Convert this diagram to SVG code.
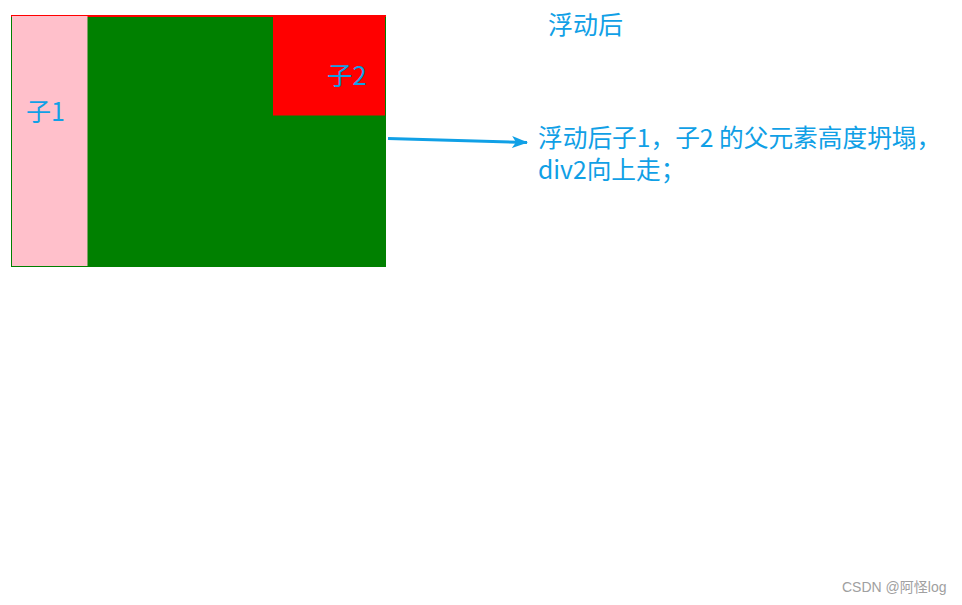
<svg xmlns="http://www.w3.org/2000/svg" width="962" height="605" viewBox="0 0 962 605">
<style>
.t{font-family:"Microsoft YaHei","Noto Sans CJK SC","Noto Sans",sans-serif;fill:#10a0e6}
.w{font-family:"Liberation Sans","Noto Sans CJK SC",sans-serif;fill:#a0a0a0;font-size:14px}
</style>
<defs>
<marker id="ah" markerWidth="16" markerHeight="12" refX="15" refY="6" orient="auto" markerUnits="userSpaceOnUse">
<path d="M0,0 L16,6 L0,12 L4,6 Z" fill="#10a0e6"/>
</marker>
</defs>
<rect width="962" height="605" fill="#fff"/>
<g id="parent">
<rect x="11.5" y="15.5" width="374" height="251" fill="#008000" stroke="#008000" stroke-width="1"/>
<rect x="11" y="15" width="375" height="2" fill="#ff0000"/>
</g>
<g id="child1">
<rect x="12" y="16" width="75.5" height="250" fill="#ffc0cb"/>
<text class="t" x="26" y="121" font-size="25">子1</text>
</g>
<g id="child2">
<rect x="273" y="15" width="112" height="100.5" fill="#ff0000"/>
<text class="t" x="327" y="85" font-size="25.5">子2</text>
</g>
<g id="connectors">
<line x1="388" y1="138.5" x2="527" y2="142.5" stroke="#10a0e6" stroke-width="3" marker-end="url(#ah)"/>
</g>
<g id="title">
<text class="t" x="548" y="34" font-size="25">浮动后</text>
</g>
<g id="note">
<text class="t" font-size="24.7"><tspan x="538" y="147">浮动后子1，子2 的父元素高度坍塌，</tspan><tspan x="538" y="179">div2向上走；</tspan></text>
</g>
<text class="w" x="842" y="592">CSDN @阿怪log</text>
</svg>
